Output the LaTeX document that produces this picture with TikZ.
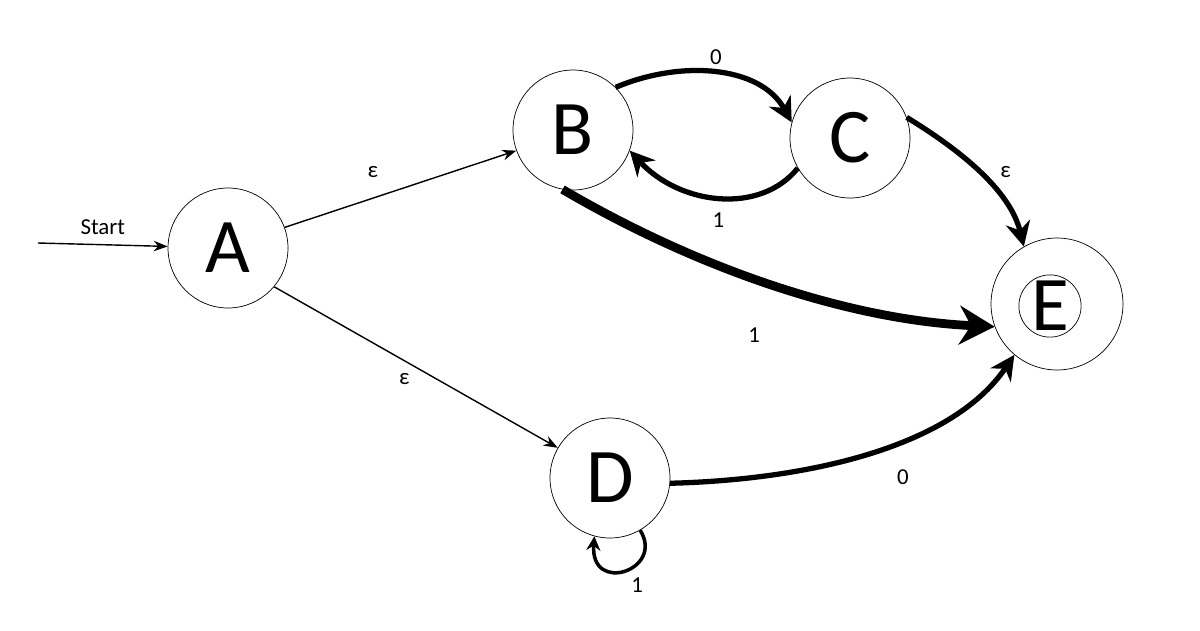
\documentclass[tikz,border=0pt]{standalone}
\usepackage{fontspec}
\setmainfont{Carlito}
\usetikzlibrary{calc}
\usetikzlibrary{arrows.meta}

\tikzset{
  state/.style={draw,circle,minimum size=2.4cm,inner sep=0pt,font=\fontsize{44}{44}\selectfont},
  lbl/.style={font=\fontsize{13}{13}\selectfont},
  thin arr/.style={-{Stealth[length=8pt,width=6pt]},thick},
  fat arr/.style={-{Stealth[length=14pt,width=14pt]},line width=3pt},
}

\begin{document}
\begin{tikzpicture}[x=0.02cm,y=-0.02cm]
\useasboundingbox (0,0) rectangle (1200,630);

\node[state] (A) at (228,248) {A};
\node[state] (B) at (573,130) {B};
\node[state] (C) at (850,138) {C};
\node[state] (D) at (610,478) {D};
\node[state,minimum size=2.64cm] (E) at (1057,304) {};
\node[draw,circle,minimum size=1.15cm,inner sep=0pt,font=\fontsize{44}{44}\selectfont] (Ein) at (1050,306) {E};

\coordinate (S) at (38,243);

\draw[thin arr] (S)--(A) node[lbl,above,midway,yshift=2pt] {Start};
\draw[thin arr] (A.20)--(B.200) node[lbl,above,pos=0.38,yshift=8pt] {ε};
\draw[thin arr] (A.-40)--(D.150) node[lbl,below left,midway] {ε};

\draw[fat arr] (B.45) .. controls (680,60) and (760,65) .. (C.165) node[lbl,pos=0.5,above] {0};
\draw[fat arr] (C.-150) .. controls (760,215) and (680,205) .. (B.-20) node[lbl,pos=0.5,below,yshift=-4pt] {1};
\draw[fat arr] (C.20) .. controls (960,150) and (1010,190) .. (E.120) node[lbl,pos=0.6,above right] {ε};
\draw[-{Stealth[length=20pt,width=22pt]},line width=5pt] (B.-100) .. controls (700,270) and (850,320) .. (E.200) node[lbl,pos=0.45,below,yshift=-22pt] {1};
\draw[fat arr] (D.-5) .. controls (800,480) and (950,450) .. (E.-130) node[lbl,pos=0.6,below,yshift=-12pt] {0};
\draw[-{Stealth[length=8pt,width=8pt]},line width=2pt] (D.-60) .. controls (665,570) and (590,595) .. (D.-105) node[lbl,pos=0.35,below,yshift=-4pt] {1};

\end{tikzpicture}
\end{document}
